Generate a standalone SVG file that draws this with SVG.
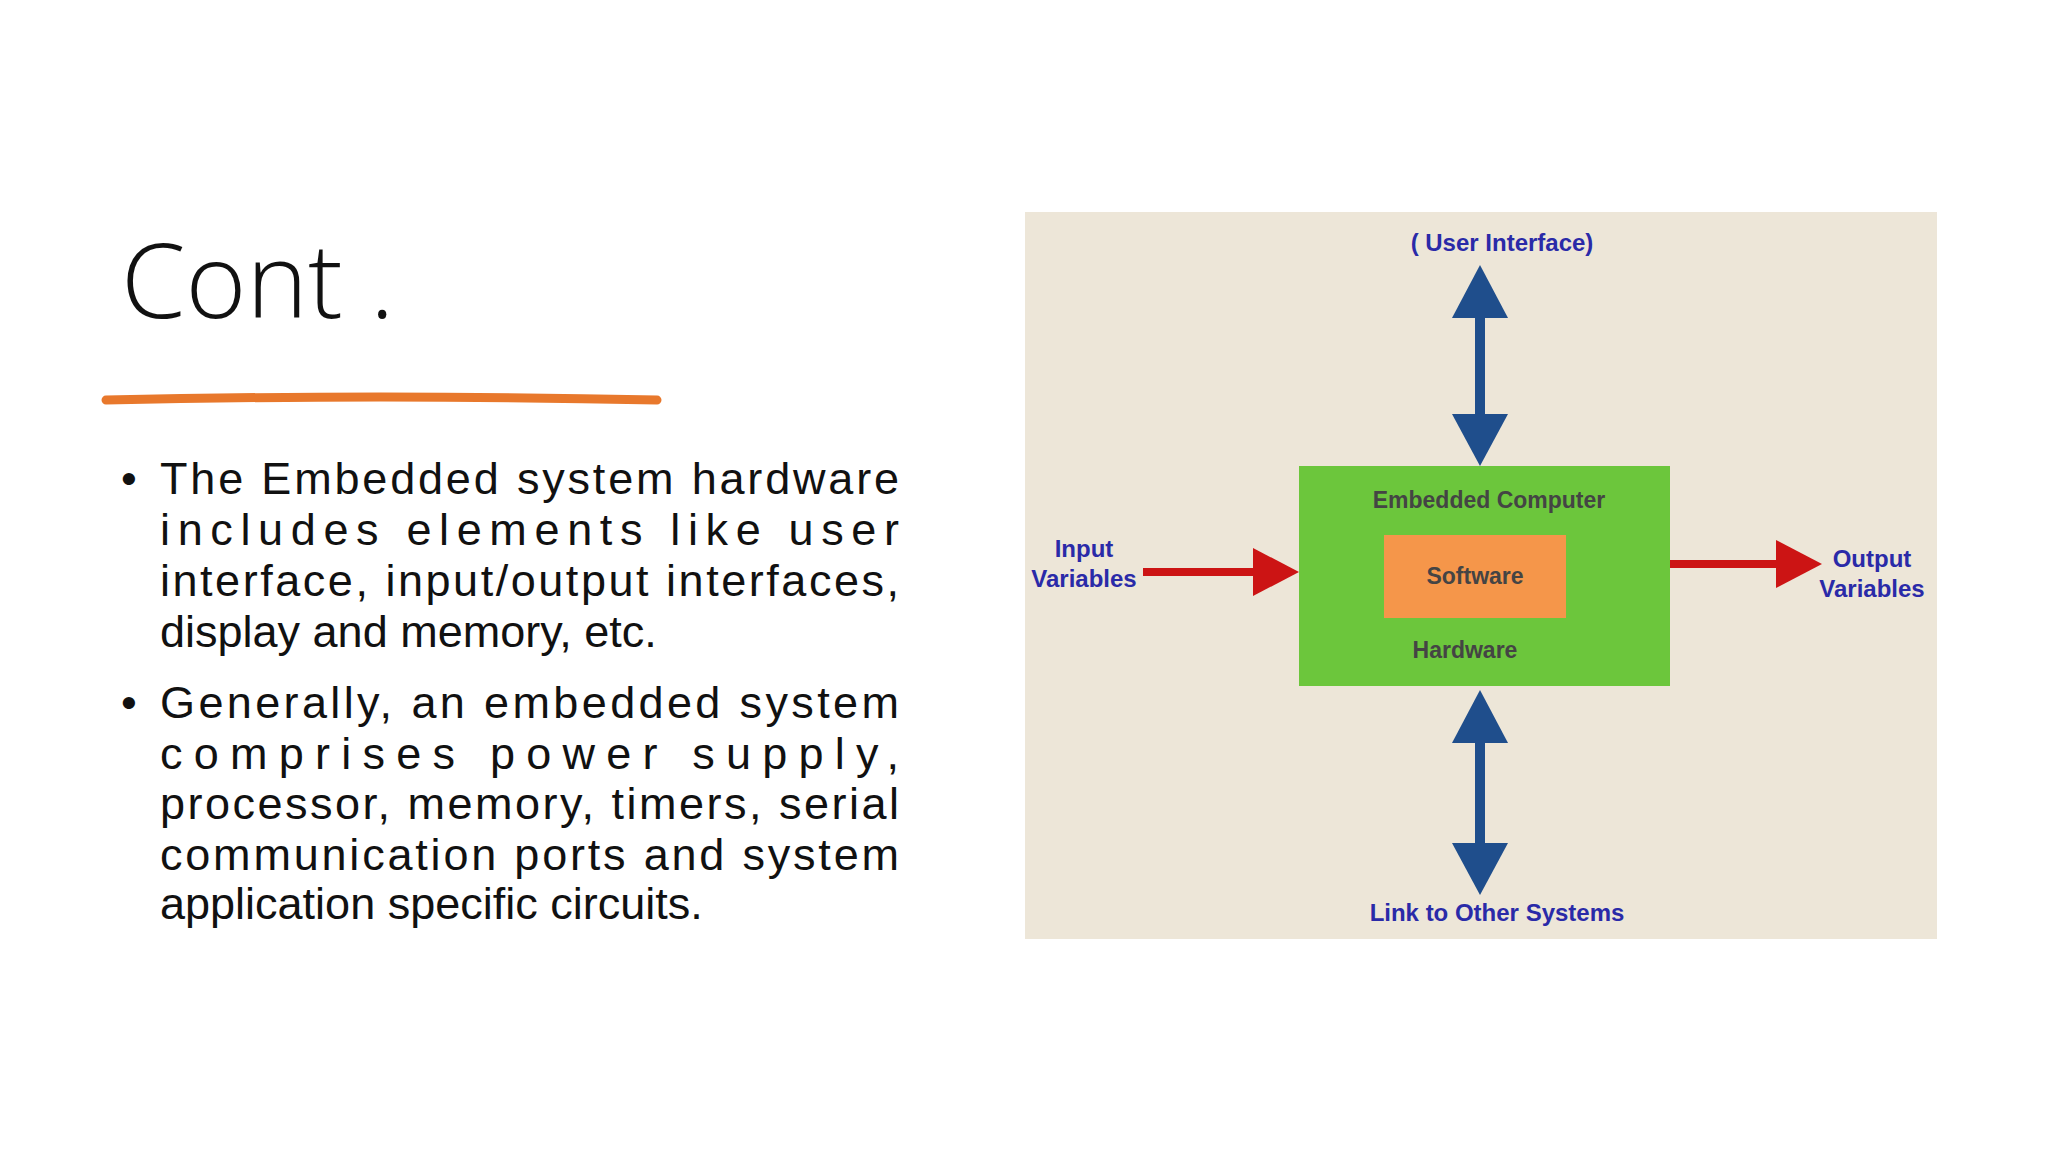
<svg xmlns="http://www.w3.org/2000/svg" width="2048" height="1152" viewBox="0 0 2048 1152">
<style>
.b{font-family:"Liberation Sans",Arial,sans-serif;font-size:45px;fill:#111}
.d{font-family:"Liberation Sans",Arial,sans-serif;font-size:23px;fill:#444;font-weight:bold;text-anchor:middle}
.l{font-family:"Liberation Sans",Arial,sans-serif;font-size:24px;fill:#2a2aa8;font-weight:bold;text-anchor:middle}
.blue{fill:#1f4e8c}.red{fill:#cc1414}
</style>
<rect width="2048" height="1152" fill="#fff"/>
<text x="121" y="318" font-family="'Open Sans',sans-serif" font-weight="300" font-size="104" fill="#111">Cont .</text>
<path d="M106 400 Q380 394 657 400" stroke="#e8782c" stroke-width="9" stroke-linecap="round" fill="none"/>
<g id="bullets">
<text class="b" x="121" y="494">•</text>
<text class="b" x="160" y="494" textLength="739" lengthAdjust="spacing">The Embedded system hardware</text>
<text class="b" x="160" y="545" textLength="739" lengthAdjust="spacing">includes elements like user</text>
<text class="b" x="160" y="596" textLength="739" lengthAdjust="spacing">interface, input/output interfaces,</text>
<text class="b" x="160" y="647">display and memory, etc.</text>
<text class="b" x="121" y="718">•</text>
<text class="b" x="160" y="718" textLength="739" lengthAdjust="spacing">Generally, an embedded system</text>
<text class="b" x="160" y="769" textLength="739" lengthAdjust="spacing">comprises power supply,</text>
<text class="b" x="160" y="819" textLength="739" lengthAdjust="spacing">processor, memory, timers, serial</text>
<text class="b" x="160" y="870" textLength="739" lengthAdjust="spacing">communication ports and system</text>
<text class="b" x="160" y="919">application specific circuits.</text>
</g>
<rect x="1025" y="212" width="912" height="727" fill="#ede6d8"/>
<g id="computer">
<rect x="1299" y="466" width="371" height="220" fill="#6cc63c"/>
<text class="d" x="1489" y="508">Embedded Computer</text>
<text class="d" x="1465" y="658">Hardware</text>
</g>
<g id="software">
<rect x="1384" y="535" width="182" height="83" fill="#f5964a"/>
<text class="d" x="1475" y="584">Software</text>
</g>
<g id="labels">
<text class="l" x="1502" y="251">( User Interface)</text>
<text class="l" x="1084" y="557">Input</text>
<text class="l" x="1084" y="587">Variables</text>
<text class="l" x="1872" y="567">Output</text>
<text class="l" x="1872" y="597">Variables</text>
<text class="l" x="1497" y="921">Link to Other Systems</text>
</g>
<g id="connectors">
<rect class="blue" x="1475" y="310" width="10" height="112"/>
<polygon class="blue" points="1480,265 1508,318 1452,318"/>
<polygon class="blue" points="1480,466 1508,414 1452,414"/>
<rect class="blue" x="1475" y="735" width="10" height="115"/>
<polygon class="blue" points="1480,690 1508,743 1452,743"/>
<polygon class="blue" points="1480,895 1508,843 1452,843"/>
<rect class="red" x="1143" y="568" width="110" height="8"/>
<polygon class="red" points="1299,572 1253,548 1253,596"/>
<rect class="red" x="1670" y="560" width="106" height="8"/>
<polygon class="red" points="1822,564 1776,540 1776,588"/>
</g>
</svg>
